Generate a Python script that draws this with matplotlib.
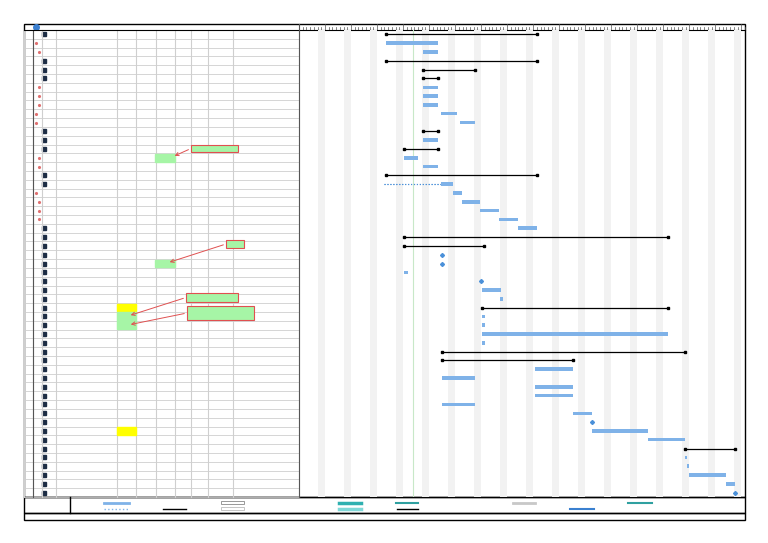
import matplotlib
matplotlib.use("Agg")
import matplotlib.pyplot as plt
from matplotlib.patches import Rectangle, FancyArrowPatch

W, H = 768, 543
# task data: (row, start_day, end_day, kind)  kind: S summary, B bar, M milestone, D dotted
task_rows = list(range(53))
task_start = [23.4,23.4,33.3,23.4,33.3,33.3,33.3,33.3,33.3,38.2,43.3,33.3,33.3,28.2,28.2,33.3,23.4,38.2,41.4,43.8,48.7,53.8,58.9,
              28.2,28.2,38.4,38.4,28.2,48.9,49.2,54.0,49.2,49.2,49.2,49.2,49.2,38.4,38.4,63.4,38.4,63.4,63.4,38.4,73.7,78.8,78.8,93.8,
              103.8,103.8,104.3,104.8,115.0,117.2]
task_end = [64.0,37.4,37.4,64.0,47.3,37.4,37.4,37.4,37.4,42.5,47.3,37.4,37.4,37.4,32.0,37.4,64.0,41.4,43.8,48.7,53.8,58.9,64.0,
            99.2,49.7,38.4,38.4,29.3,48.9,54.3,54.8,99.2,50.0,50.0,99.2,50.0,103.8,73.7,73.7,47.3,73.7,73.7,47.3,78.8,78.8,93.8,103.8,
            117.2,104.3,104.8,115.0,117.2,117.2]
task_kind = ["S","B","B","S","S","S","B","B","B","B","B","S","B","S","B","B","S","B","B","B","B","B","B",
             "S","S","M","M","B","M","B","B","S","B","B","B","B","S","S","B","B","B","B","B","B","M","B","B",
             "S","B","B","B","B","M"]
icon_rows = [0,3,4,5,11,12,13,16,17,22,23,24,25,26,28,31,32,33,34,35,36,37,38,39,40,41,42,43,44,45,46,47,48,49,50,51,52,29,30,27]
mark_rows = [1,2,6,7,8,9,10,14,15,18,19,20,21]
table_cols = [24,33,42,56,117,136,156,175,191,208,233,299]

fig = plt.figure(figsize=(W/100, H/100), dpi=100)
bg = fig.add_axes([0,0,1,1]); bg.set_xlim(0,W); bg.set_ylim(H,0); bg.axis('off')
top, bot = 30, 497
pitch = (bot-top)/53
def ry(r): return top + pitch*(r+0.5)

# table
for r in range(54):
    y = top + pitch*r
    bg.plot([24,299],[y,y],color='#cfcfcf',lw=0.6)
for x in table_cols:
    bg.plot([x,x],[top,bot],color='#cfcfcf',lw=0.8)
bg.plot([33,33],[top,bot],color='#555555',lw=0.8)
for r in icon_rows:
    bg.add_patch(Rectangle((42,ry(r)-2),4,4,color='#1d2d45'))
for r in mark_rows:
    bg.plot(36 if r in (1,9,10,18) else 39, ry(r), marker='.', color='#e07070', ms=2.5)
bg.plot(36,27,'o',color='#3a7fd0',ms=4)
# highlights
for (x0,x1,r0,r1,c) in [(155,175,14,14,'#a6f5a6'),(155,175,26,26,'#a6f5a6'),(117,136,31,31,'#ffff00'),
                        (117,136,32,33,'#a6f5a6'),(117,136,45,45,'#ffff00')]:
    bg.add_patch(Rectangle((x0,top+pitch*r0+0.5),x1-x0,pitch*(r1-r0+1)-1,color=c,zorder=2))
for (x0,y0,x1,y1,tx,ty) in [(191,145,238,152,172,157),(226,240,244,248,167,263),(186,293,238,302,128,316),(187,306,254,320,128,325)]:
    bg.add_patch(Rectangle((x0,y0),x1-x0,y1-y0,facecolor='#a6f5a6',edgecolor='#e05050',lw=0.8,zorder=3))
    bg.add_patch(FancyArrowPatch((x0,(y0+y1)/2),(tx,ty),arrowstyle='->',color='#e05050',lw=0.7,mutation_scale=6,zorder=3))

# gantt axis
ax = fig.add_axes([299/W, 1-bot/H, (745-299)/W, (bot-top)/H])
ax.set_xlim(0,120); ax.set_ylim(53-0.5,-0.5); ax.axis('off')
for d in range(0,120,7):
    ax.axvspan(d+5,d+7,color='#f2f2f2',lw=0,zorder=0)
ax.axvline(30.7,color='#c8e8c8',lw=0.8,zorder=0)
for r in range(53):
    s,e,k = task_start[r],task_end[r],task_kind[r]
    if k=="S":
        ax.plot([s,e],[r,r],color='black',lw=0.9,zorder=3)
        ax.plot([s,e],[r,r],'s',color='black',ms=1.8,zorder=3)
    elif k=="M":
        ax.plot(s,r,'D',color='#4a90d9',ms=2,zorder=3)
    else:
        ax.barh(r,e-s,left=s,height=0.4,color='#7fb2e8',zorder=3)
ax.plot([22.8,38.2],[17,17],':',color='#4a90d9',lw=0.8)
ax.plot([22.8,38.2],[17,17],':',color='#4a90d9',lw=0.8)

# header ticks
for i in range(121):
    x = 299 + i*446/120
    bg.plot([x,x],[27 if i%7 else 24,30],color='#555555',lw=0.5)
# frames
bg.add_patch(Rectangle((24,24),721,473,fill=False,ec='black',lw=1))
bg.plot([24,745],[30,30],color='black',lw=0.8)
bg.plot([299,299],[24,497],color='#555555',lw=0.8)
bg.add_patch(Rectangle((24,497),721,16,fill=False,ec='black',lw=1))
bg.add_patch(Rectangle((24,513),721,7,fill=False,ec='black',lw=1))
bg.plot([70,70],[497,513],color='black',lw=1)
# legend samples
for (x0,x1,y,c,lw) in [(104,129,503,'#7fb2e8',2),(339,361,503,'#2fb0b0',2.5),(396,418,503,'#2fa0a0',1.5),
                       (513,535,503,'#c8c8c8',2),(628,652,503,'#2fa0a0',1.5),(570,594,509,'#3a80d0',1.5),
                       (339,361,509,'#80d8d8',2.5),(163,186,509,'black',1),(397,418,509,'black',1)]:
    bg.plot([x0,x1],[y,y],color=c,lw=lw)
bg.plot([104,129],[509,509],':',color='#7fb2e8',lw=1)
bg.add_patch(Rectangle((221,501),23,3,fill=False,ec='#888',lw=0.6))
bg.add_patch(Rectangle((221,507),23,3,fill=False,ec='#bbb',lw=0.6))
fig.savefig("out.png",dpi=100)
